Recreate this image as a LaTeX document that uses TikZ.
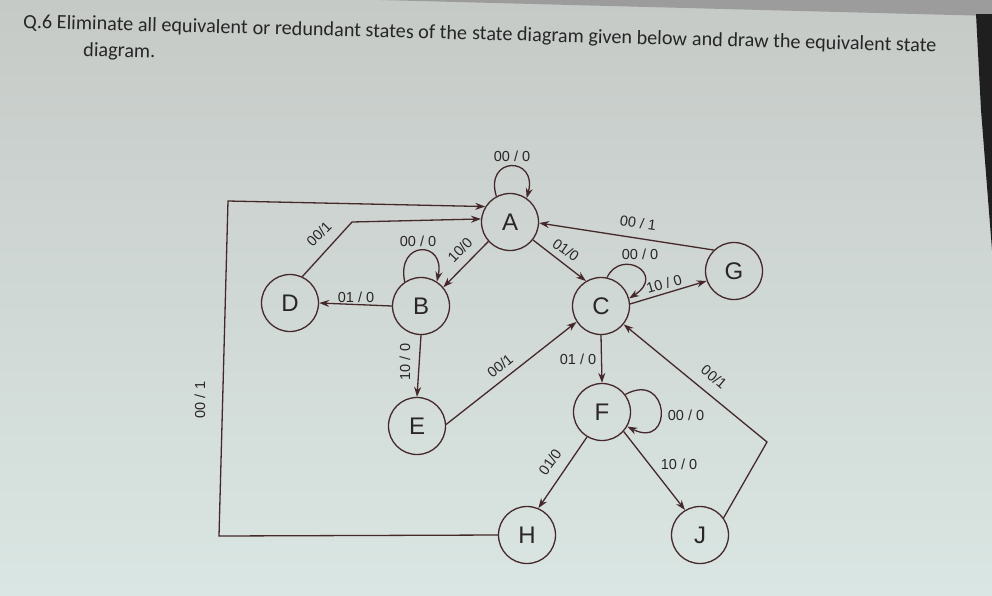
\documentclass[tikz,border=0pt]{standalone}
\usepackage{fontspec}
\setmainfont{Liberation Sans}
\newfontfamily\titlefont{Carlito}
\usetikzlibrary{arrows.meta}
\definecolor{ln}{HTML}{45282A}
\definecolor{tx}{HTML}{2A2626}
\definecolor{bgtop}{HTML}{C6CAC7}
\definecolor{bgmid}{HTML}{E4EFEC}
\definecolor{bgbot}{HTML}{DAE6E3}
\begin{document}
\begin{tikzpicture}[x=1pt,y=-1pt,
  st/.style={circle,draw=ln,line width=1.3pt,minimum size=57pt,inner sep=0pt,font=\fontsize{24}{24}\selectfont,text=tx},
  tr/.style={draw=ln,line width=1.3pt,-{Stealth[length=10pt,width=7pt]}},
  lb/.style={font=\fontsize{14.5}{14.5}\selectfont,text=tx,inner sep=1pt},
  ttl/.style={font=\titlefont\fontsize{20.2}{20.2}\selectfont,text=black!85,inner sep=0pt,anchor=base west,rotate=-1.5}]
\useasboundingbox (0,0) rectangle (992,595);
\shade[top color=bgtop,middle color=bgmid,bottom color=bgbot] (0,0) rectangle (992,595);
\fill[gray!70!black!60] (380,0) -- (992,0) -- (992,16) -- cycle;
\fill[black!88] (976,14) -- (992,14) -- (992,250) -- (981,110) -- cycle;

% title (set in pieces along the slightly tilted baseline)
\node[ttl] (t1) at (23,28) {Q.6 Eliminate all equivalent};
\node[ttl] (t1b) at ([xshift=4.6pt,yshift=-0.12pt]t1.base east) {or redundant states of the};
\node[ttl] (t1c) at ([xshift=4.6pt,yshift=-0.12pt]t1b.base east) {state diagram given below};
\node[ttl] (t1d) at ([xshift=4.6pt,yshift=-0.12pt]t1c.base east) {and draw the equivalent state};
\node[ttl] (t2) at (83,56) {diagram.};

% states
\node[st] (A) at (510,222) {A};
\node[st] (B) at (421,306) {B};
\node[st] (C) at (601,306) {C};
\node[st] (D) at (290,303) {D};
\node[st] (E) at (417,426) {E};
\node[st] (F) at (602,412) {F};
\node[st] (G) at (734,271) {G};
\node[st] (H) at (527,535) {H};
\node[st] (J) at (700,535) {J};

% bend points
\coordinate (p1) at (219,536);
\coordinate (p2) at (228,201);
\coordinate (p3) at (352,222);
\coordinate (p4) at (767,442);

% self loops
\draw[tr] (A.118) .. controls (484,156) and (538,156) .. (A.55);
\draw[tr] (B.124) .. controls (396,240) and (446,240) .. (B.57);
\draw[tr] (C.78) .. controls (621,248) and (667,274) .. (C.15);
\draw[tr] (F.37) .. controls (670,370) and (674,450) .. (F.-30);

% transitions
\draw[tr] (H.west) -- (p1) -- (p2) -- (A.148);
\draw[tr] (D.65) -- (p3) -- (A.174);
\draw[tr] (A.222) -- (B.40);
\draw[tr] (B.west) -- (D.east);
\draw[tr] (A.-38) -- (C.121);
\draw[tr] (G.134) -- (A.-2);
\draw[tr] (C.4) -- (G.200);
\draw[tr] (E.3) -- (C.213);
\draw[tr] (B.south) -- (E.north);
\draw[tr] (C.south) -- (F.north);
\draw[tr] (F.239) -- (H.67);
\draw[tr] (F.-42) -- (J.121);
\draw[tr] (J.36) -- (p4) -- (C.-39);

% labels
\node[lb] (l1) at (512,156) {00 / 0};
\node[lb,rotate=90] (l2) at (200,400) {00 / 1};
\node[lb,rotate=45] (l3) at (319,234) {00/1};
\node[lb,rotate=46] (l4) at (460,250) {10/0};
\node[lb] (l5) at (418,241) {00 / 0};
\node[lb] (l6) at (356,297) {01 / 0};
\node[lb,rotate=-35] (l7) at (566,250) {01/0};
\node[lb,rotate=-8] (l8) at (638,223) {00 / 1};
\node[lb] (l9) at (640,254) {00 / 0};
\node[lb,rotate=16] (l10) at (664,284) {10 / 0};
\node[lb,rotate=39] (l11) at (500,366) {00/1};
\node[lb,rotate=90] (l12) at (405,362) {10 / 0};
\node[lb] (l13) at (578,359) {01 / 0};
\node[lb] (l14) at (686,415) {00 / 0};
\node[lb,rotate=55] (l15) at (550,462) {01/0};
\node[lb] (l16) at (679,464) {10 / 0};
\node[lb,rotate=-40] (l17) at (714,377) {00/1};
\end{tikzpicture}
\end{document}
